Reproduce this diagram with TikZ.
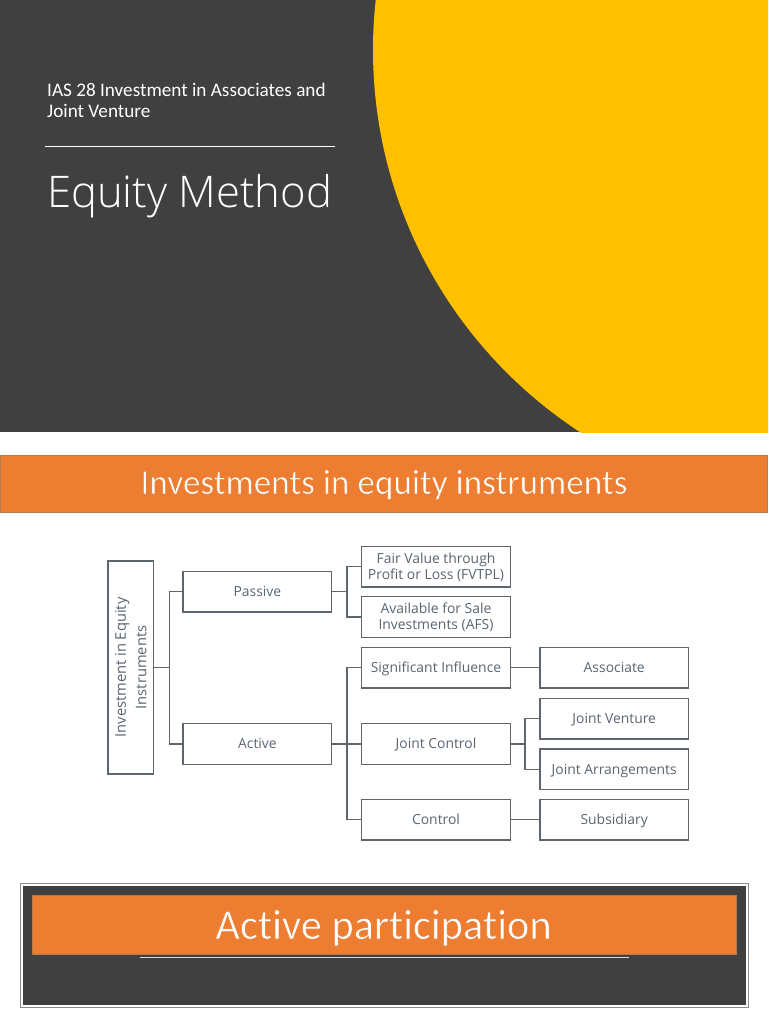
\documentclass[tikz,border=0pt]{standalone}
\usepackage{fontspec}
\setmainfont{Open Sans}
\newfontfamily\slidefont[Ligatures=NoCommon]{Carlito}
\newfontfamily\thinfont{Open Sans Light}
\newcommand{\thinnedtext}[1]{\special{pdf:code 2 Tr 0.55 w 0.929 0.49 0.192 RG}#1\special{pdf:code 0 Tr 1 w}}
\definecolor{darkbg}{HTML}{404040}
\definecolor{sun}{HTML}{FFC000}
\definecolor{band}{HTML}{ED7D31}
\definecolor{bandedge}{HTML}{B5784A}
\definecolor{boxline}{HTML}{5F666E}
\definecolor{boxtext}{HTML}{5A6570}
\tikzset{
 orgbox/.style={draw=boxline,line width=1.4pt,fill=white,inner sep=0pt,text=boxtext,align=center,font=\fontsize{13.9}{16}\selectfont},
 wide/.style={orgbox,minimum width=148.7pt,minimum height=40.6pt},
 oneline/.style={wide,text height=12pt,text depth=2pt},
 link/.style={draw=boxline,line width=1.3pt},
 slidetext/.style={text=white,inner sep=0pt,anchor=base west}
}
\begin{document}
\begin{tikzpicture}[x=1pt,y=-1pt]
\useasboundingbox (0,0) rectangle (768,1024);
\fill[white] (0,0) rectangle (768,1024);
% top panel
\begin{scope}
\clip (0,0) rectangle (768,432);
\fill[darkbg] (0,0) rectangle (768,432);
\fill[sun] (829,50) circle (456);
\end{scope}
\node[slidetext,font=\slidefont\fontsize{19.2}{22}\selectfont] (t1) at (47,97) {IAS 28 Investment in Associates and};
\node[slidetext,font=\slidefont\fontsize{19.2}{22}\selectfont] (t2) at (47,118) {Joint Venture};
\coordinate (ruleA) at (45,146);
\coordinate (ruleB) at (335,146);
\draw[white,line width=0.8pt] (ruleA) -- (ruleB);
\node[slidetext,font=\thinfont\fontsize{43.6}{48}\selectfont] (t3) at (47,208) {Equity Method};
% band
\node[draw=bandedge,line width=0.8pt,fill=band,minimum width=767pt,minimum height=57pt,inner sep=0pt] (band1) at (384,483.8) {};
\node[text=white,inner sep=0pt,anchor=base,font=\slidefont\fontsize{35.2}{38}\selectfont] (band1t) at (384,494) {\thinnedtext{Investments in equity instruments}};
% diagram
\node[orgbox,minimum width=45.5pt,minimum height=213pt] (root) at (130.8,667.5) {};
\node[text=boxtext,rotate=90,align=center,inner sep=0pt,font=\fontsize{14.7}{20.5}\selectfont] (roott) at (root.center) {Investment in Equity\\Instruments};
\node[oneline] (passive) at (257.4,591.8) {Passive};
\node[oneline] (active) at (257.4,743.9) {Active};
\node[wide] (fv) at (436,566.7) {\rule{0pt}{12pt}Fair Value through\\Profit or Loss (FVTPL)};
\node[wide] (afs) at (436,617) {\rule{0pt}{12pt}Available for Sale\\Investments (AFS)};
\node[oneline] (si) at (436,667.6) {Significant Influence};
\node[oneline] (jc) at (436,743.9) {Joint Control};
\node[oneline] (ctl) at (436,819.8) {Control};
\node[oneline] (assoc) at (614.2,667.6) {Associate};
\node[oneline] (jv) at (614.2,718.6) {Joint Venture};
\node[oneline] (ja) at (614.2,769.2) {Joint Arrangements};
\node[oneline] (sub) at (614.2,819.8) {Subsidiary};
\path[link] (root.east) -- ++(15,0) coordinate (b1);
\path[link] (b1) |- (passive.west);
\path[link] (b1) |- (active.west);
\coordinate (b2) at (347,591.8);
\path[link] (passive.east) -- (b2);
\path[link] (b2) |- (fv.west);
\path[link] (b2) |- (afs.west);
\coordinate (b3) at (347,743.9);
\path[link] (active.east) -- (jc.west);
\path[link] (b3) |- (si.west);
\path[link] (b3) |- (ctl.west);
\path[link] (si.east) -- (assoc.west);
\path[link] (ctl.east) -- (sub.west);
\coordinate (b4) at (525,743.9);
\path[link] (jc.east) -- (b4);
\path[link] (b4) |- (jv.west);
\path[link] (b4) |- (ja.west);
% bottom panel
\node[draw=gray!90,line width=1.2pt,fill=white,minimum width=728pt,minimum height=123.5pt,inner sep=0pt] (frame) at (384.2,945.5) {};
\node[fill=darkbg,minimum width=723pt,minimum height=118.5pt,inner sep=0pt] (inner) at (frame.center) {};
\node[draw=bandedge,line width=0.8pt,fill=band,minimum width=703.5pt,minimum height=59.4pt,inner sep=0pt] (band2) at (384.2,925) {};
\node[text=white,inner sep=0pt,anchor=base,font=\slidefont\fontsize{42.5}{46}\selectfont] (band2t) at (383.5,939) {\thinnedtext{Active participation}};
\coordinate (ruleC) at (140,957.3);
\coordinate (ruleD) at (629,957.3);
\draw[white!85!black,line width=0.8pt] (ruleC) -- (ruleD);
\end{tikzpicture}
\end{document}
